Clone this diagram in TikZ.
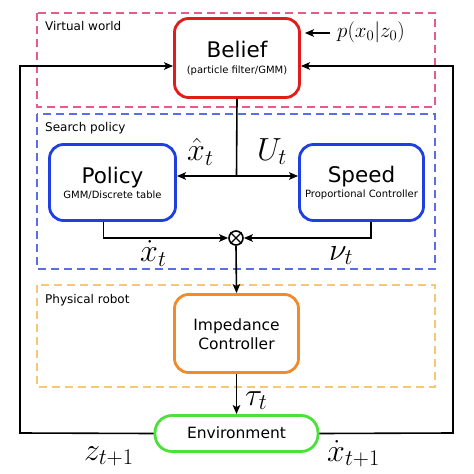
\RequirePackage{fix-cm}
\documentclass[tikz,border=0pt]{standalone}
\usepackage[no-math]{fontspec}
\setmainfont{DejaVu Sans}
\usetikzlibrary{arrows.meta,calc}
\definecolor{pinkd}{HTML}{E65A8C}
\definecolor{blued}{HTML}{5B6EE6}
\definecolor{yellowd}{HTML}{F5C878}
\definecolor{redb}{HTML}{E21B1B}
\definecolor{blueb}{HTML}{1F3FE0}
\definecolor{orangeb}{HTML}{F08A2A}
\definecolor{greenb}{HTML}{4CE03C}
\begin{document}
\begin{tikzpicture}[x=1pt,y=-1pt,
  region/.style={line width=2pt,dash pattern=on 8pt off 5pt},
  box/.style={draw,line width=2.8pt,rounded corners=14pt,fill=white,inner sep=0pt},
  conn/.style={line width=1.6pt},
  arr/.style={conn,-{Stealth[length=9pt,width=7.5pt,inset=2pt]}},
  big/.style={inner sep=0pt,anchor=base,font=\fontsize{21.5}{24}\selectfont},
  mid/.style={inner sep=0pt,anchor=base,font=\fontsize{15.5}{18}\selectfont},
  small/.style={inner sep=0pt,anchor=base,font=\fontsize{10}{12}\selectfont},
  lab/.style={inner sep=0pt,anchor=base west,font=\fontsize{12}{14}\selectfont},
  mathl/.style={inner sep=0pt,anchor=base west,font=\fontsize{32}{38}\selectfont},
  mathp/.style={inner sep=0pt,anchor=base west,font=\fontsize{21}{25}\selectfont}]
\useasboundingbox[fill=white] (0,0) rectangle (474,474);
% regions
\draw[region,pinkd] (37,13) rectangle (435,107);
\draw[region,blued] (37,114) rectangle (435,269);
\draw[region,yellowd] (37,285) rectangle (435,387);
\node[lab] (lv) at (45,30.5) {Virtual world};
\node[lab] (ls) at (45,131.5) {Search policy};
\node[lab] (lp) at (45,303) {Physical robot};
% boxes
\node[box,draw=redb,minimum width=125pt,minimum height=79pt] (belief) at (237,58) {};
\node[box,draw=blueb,minimum width=126pt,minimum height=76pt] (policy) at (112.5,182.5) {};
\node[box,draw=blueb,minimum width=124pt,minimum height=76pt] (speed) at (361.5,182.5) {};
\node[box,draw=orangeb,minimum width=124pt,minimum height=78pt] (imp) at (236.5,333.5) {};
\node[box,draw=greenb,rounded corners=17pt,minimum width=163pt,minimum height=36pt] (env) at (236.5,433.5) {};
\node[draw,circle,line width=1.6pt,minimum size=14pt,inner sep=0pt,fill=white] (ot) at (236,238) {};
\draw[line width=1.2pt] (ot.north east) -- (ot.south west) (ot.north west) -- (ot.south east);
% texts in boxes
\node[big] (tb1) at (237,57) {Belief};
\node[small] (tb2) at (237,73) {(particle filter/GMM)};
\node[big] (tp1) at (112.5,183) {Policy};
\node[small] (tp2) at (112.5,198) {GMM/Discrete table};
\node[big] (ts1) at (361.5,182.7) {Speed};
\node[small] (ts2) at (361.5,197.7) {Proportional Controller};
\node[mid] (ti1) at (236.5,330) {Impedance};
\node[mid] (ti2) at (236.5,349.3) {Controller};
\node[mid] (te) at (236.5,438.3) {Environment};
% connectors
\coordinate (yin) at (0,66);
\coordinate (ll) at (20,433);
\coordinate (rr) at (453,433);
\coordinate (br) at (236.5,176);
\draw[arr] (env.west) -- (ll) |- (belief.west |- yin);
\draw[arr] (env.east) -- (rr) |- (belief.east |- yin);
\draw[conn] (belief.south) -- (br);
\draw[arr] (br) -- (policy.east |- br);
\draw[arr] (br) -- (speed.west |- br);
\draw[arr] ([xshift=-9pt]policy.south) |- (ot.west);
\draw[arr] ([xshift=9.5pt]speed.south) |- (ot.east);
\draw[arr] (ot.south) -- (imp.north);
\draw[arr] (imp.south) -- (env.north);
% math labels
\node[mathp] (p0) at (337,37.5) {$p(x_0|z_0)$};
\draw[arr,shorten >=4pt] (p0.west |- 0,33) ++(-7,0) coordinate (ps) -- (belief.east |- ps);
\node[mathl] (xh) at (187,160.5) {$\hat{x}_t$};
\node[mathl] (ut) at (257,160) {$U_t$};
\node[mathl] (xd) at (140,261.5) {$\dot{x}_t$};
\node[mathl] (nu) at (329,260) {$\nu_t$};
\node[mathl] (tau) at (245,405) {$\tau_t$};
\node[mathl] (z1) at (84,460) {$z_{t+1}$};
\node[mathl] (xd1) at (327,461) {$\dot{x}_{t+1}$};
\end{tikzpicture}
\end{document}
